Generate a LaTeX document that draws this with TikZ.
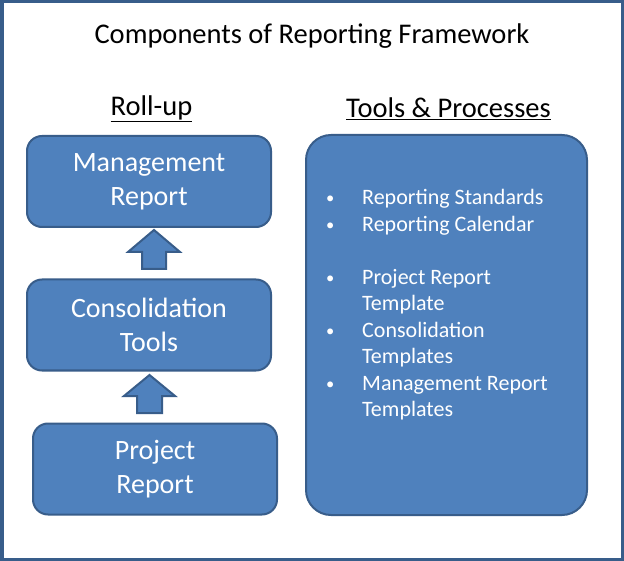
\documentclass[tikz,border=0pt]{standalone}
\usepackage{fontspec}
\setmainfont{Carlito}
\definecolor{boxfill}{HTML}{4F81BD}
\definecolor{boxline}{HTML}{385D8A}
\newcommand{\smallbul}{\raisebox{1pt}{\scalebox{0.75}{\textbullet}}}
\begin{document}
\begin{tikzpicture}[x=1pt,y=-1pt,
  blockbox/.style={draw=boxline, fill=boxfill, line width=2pt, rounded corners=15pt,
    minimum width=244pt, minimum height=91pt, inner sep=0pt, text=white, align=center,
    font=\fontsize{28}{34}\selectfont},
  uparrow/.style={draw=boxline, fill=boxfill, line width=2pt, line join=miter},
  heading/.style={inner sep=0pt, font=\fontsize{28.5}{34}\selectfont}]
\useasboundingbox (0,0) rectangle (624,561);
\fill[white] (0,0) rectangle (624,561);
\draw[boxline, line width=3.5pt] (1.75,1.75) rectangle (622.25,559.25);

\node[heading] (title) at (312,36) {Components of Reporting Framework};
\node[heading] (rollup) at (151.5,109) {\underline{Roll-up}};
\node[heading] (tools) at (448.5,109) {\underline{Tools \& Processes}};

\node[blockbox] (mgmt) at (149,181.5) {Management\\Report};
\node[blockbox] (cons) at (149,325) {Consolidation\\Tools};
\node[blockbox] (proj) at (155,469) {Project\\Report};

\node[draw=boxline, fill=boxfill, line width=2pt, rounded corners=25pt,
  minimum width=281pt, minimum height=380pt, inner sep=0pt] (tp) at (446.5,325) {};

\node[anchor=base west, inner sep=0pt, text=white, font=\fontsize{22}{26.5}\selectfont] (list) at (326,205)
 {\begin{tabular}[t]{@{}p{36pt}@{}l@{}}
 \smallbul & Reporting Standards\\
 \smallbul & Reporting Calendar\\
  & \\
 \smallbul & Project Report\\
  & Template\\
 \smallbul & Consolidation\\
  & Templates\\
 \smallbul & Management Report\\
  & Templates
 \end{tabular}};

\draw[uparrow] (154,230) -- (180,252) -- (166,252) -- (166,269) -- (142,269) -- (142,252) -- (128,252) -- cycle;
\draw[uparrow] (149.5,375) -- (175,396) -- (162,396) -- (162,413) -- (137,413) -- (137,396) -- (124,396) -- cycle;
\end{tikzpicture}
\end{document}
